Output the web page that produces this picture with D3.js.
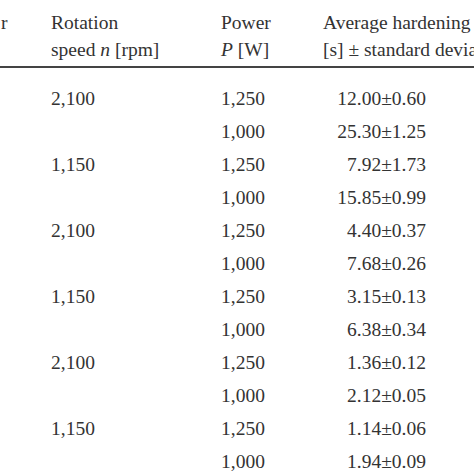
<!DOCTYPE html>
<html><head><meta charset="utf-8">
<script src="https://cdn.jsdelivr.net/npm/d3@7"></script>
<style>body{margin:0;background:#fff;overflow:hidden}text{font-family:"Liberation Serif","Times New Roman",serif;font-size:19.5px;fill:#333}</style>
</head><body>
<script>
var width = 474, height = 474;

var speeds = ["2,100", "", "1,150", "", "2,100", "", "1,150", "", "2,100", "", "1,150", ""];
var powers = ["1,250", "1,000", "1,250", "1,000", "1,250", "1,000", "1,250", "1,000", "1,250", "1,000", "1,250", "1,000"];
var means = ["12.00", "25.30", "7.92", "15.85", "4.40", "7.68", "3.15", "6.38", "1.36", "2.12", "1.14", "1.94"];
var sds = ["0.60", "1.25", "1.73", "0.99", "0.37", "0.26", "0.13", "0.34", "0.12", "0.05", "0.06", "0.09"];

var svg = d3.select("body").append("svg")
    .attr("width", width).attr("height", height);

// header
svg.append("text").attr("x", 1).attr("y", 29).text("r");
svg.append("text").attr("x", 51).attr("y", 29).text("Rotation");
var h2 = svg.append("text").attr("x", 51).attr("y", 56);
h2.append("tspan").text("speed ");
h2.append("tspan").attr("font-style", "italic").text("n");
h2.append("tspan").text(" [rpm]");
svg.append("text").attr("x", 221).attr("y", 29).text("Power");
var h3 = svg.append("text").attr("x", 221).attr("y", 56);
h3.append("tspan").attr("font-style", "italic").text("P");
h3.append("tspan").text(" [W]");
svg.append("text").attr("x", 323).attr("y", 29).text("Average hardening time");
svg.append("text").attr("x", 323).attr("y", 56).text("[s] \u00b1 standard deviation");

svg.append("rect").attr("x", 0).attr("y", 66).attr("width", width).attr("height", 2).attr("fill", "#444");

var y = d3.scaleBand().domain(d3.range(means.length)).range([81, 478]);
var rows = svg.selectAll(".row").data(means).enter().append("g")
    .attr("transform", function(d, i){ return "translate(0," + (y(i) + y.bandwidth()/2 + 7) + ")"; });

rows.append("text").attr("x", 51).text(function(d, i){ return speeds[i]; });
rows.append("text").attr("x", 221).text(function(d, i){ return powers[i]; });
rows.append("text").attr("x", 426).attr("text-anchor", "end")
    .text(function(d, i){ return d + "\u00b1" + sds[i]; });
</script>
</body></html>
